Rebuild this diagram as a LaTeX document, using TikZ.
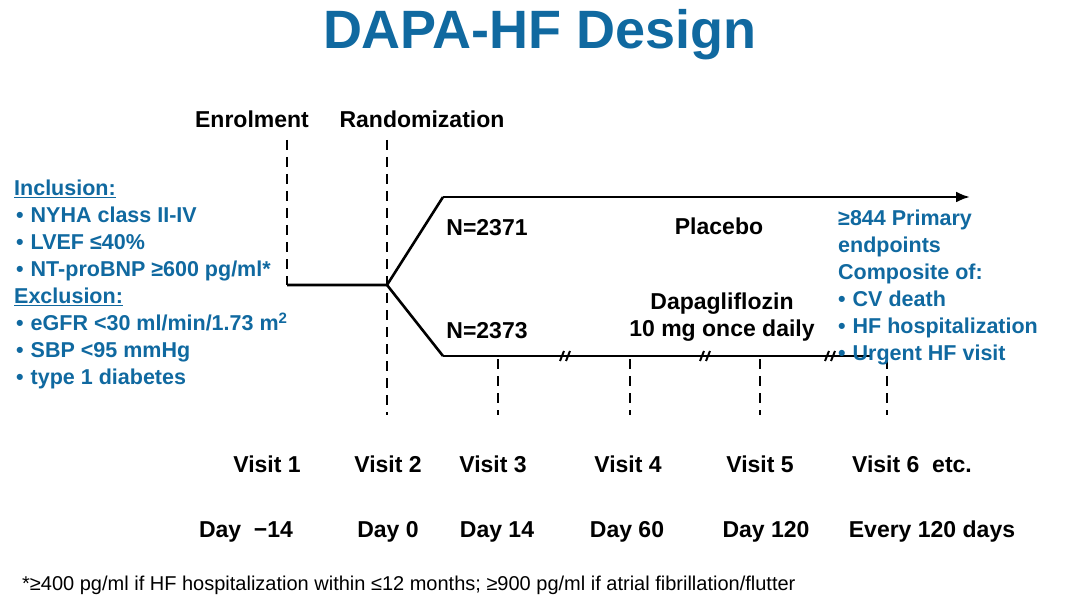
\documentclass[tikz,border=0pt]{standalone}
\usepackage{fontspec}
\setmainfont{Liberation Sans}
\usetikzlibrary{arrows.meta}
\definecolor{dapablue}{RGB}{16,105,160}
\begin{document}
\begin{tikzpicture}[
            x=1pt, y=-1pt,
            every node/.style={font=\fontsize{23}{27}\selectfont\bfseries, inner sep=0pt},
            side/.style={font=\fontsize{21.5}{27}\selectfont\bfseries, text=dapablue, anchor=north west, align=left},
            arm/.style={line width=2.6pt},
            visitline/.style={line width=2.6pt, dash pattern=on 10pt off 7pt},
            brk/.style={line width=2pt}
        ]
        \useasboundingbox (0,0) rectangle (1080,607);

        % Title and headings
        \node[text=dapablue, font=\fontsize{54}{60}\selectfont\bfseries] (title) at (540,35) {DAPA-HF Design};
        \node (enrol) at (252,119) {Enrolment};
        \node (rand) at (422,119) {Randomization};

        % Points of the design
        \coordinate (e0) at (287,140);
        \coordinate (e1) at (287,285);
        \coordinate (r0) at (387,140);
        \coordinate (r1) at (387,285);
        \coordinate (r2) at (387,415);
        \coordinate (up0) at (443,197);
        \coordinate (up1) at (970,197);
        \coordinate (lo0) at (443,356);
        \coordinate (lo1) at (870,356);

        % Arms
        \draw[visitline] (e0) -- (e1);
        \draw[visitline] (r0) -- (r2);
        \draw[arm] (e1) -- (r1) -- (up0);
        \draw[arm] (r1) -- (lo0);
        \draw[arm, -{Latex[length=14pt, width=11pt]}] (up0) -- (up1);
        \draw[arm] (lo0) -- (lo1);
        \foreach \bx in {563,703,828}
            \draw[brk] (\bx-3,361) -- (\bx+1,351) (\bx+3,361) -- (\bx+7,351);
        \foreach \vx in {498,630,760,887}
            \draw[visitline] (\vx,359) -- (\vx,415);

        % Arm labels
        \node (nplac) at (487,228) {N=2371};
        \node (ndapa) at (487,331) {N=2373};
        \node (plac) at (719,226) {Placebo};
        \node[align=center] (dapa) at (722,317) {Dapagliflozin\\10 mg once daily};

        % Criteria and endpoints
        \node[side] (crit) at (14,180) {%
            \underline{Inclusion:}\\
            \hspace*{2pt}•\hspace{7pt}NYHA class II-IV\\
            \hspace*{2pt}•\hspace{7pt}LVEF ≤40\%\\
            \hspace*{2pt}•\hspace{7pt}NT-proBNP ≥600 pg/ml*\\
            \underline{Exclusion:}\\
            \hspace*{2pt}•\hspace{7pt}eGFR <30 ml/min/1.73 m\textsuperscript{2}\\
            \hspace*{2pt}•\hspace{7pt}SBP <95 mmHg\\
            \hspace*{2pt}•\hspace{7pt}type 1 diabetes};
        \node[side] (endp) at (838,210) {%
            ≥844 Primary\\
            endpoints\\
            Composite of:\\
            •\hspace{7pt}CV death\\
            •\hspace{7pt}HF hospitalization\\
            •\hspace{7pt}Urgent HF visit};

        % Visits and days
        \foreach \vx/\vtext [count=\i] in {267/Visit 1, 388/Visit 2, 493/Visit 3, 628/Visit 4, 760/Visit 5, 912/Visit 6\ \ etc.}
            \node (visit\i) at (\vx,464) {\vtext};
        \foreach \dx/\dtext [count=\i] in {246/Day\ \ −14, 388/Day 0, 497/Day 14, 627/Day 60, 766/Day 120, 932/Every 120 days}
            \node (day\i) at (\dx,532) {\dtext};

        % Footnote
        \node[anchor=west, font=\fontsize{20}{24}\selectfont] (foot) at (22,585)
            {*≥400 pg/ml if HF hospitalization within ≤12 months; ≥900 pg/ml if atrial fibrillation/flutter};
\end{tikzpicture}
\end{document}
